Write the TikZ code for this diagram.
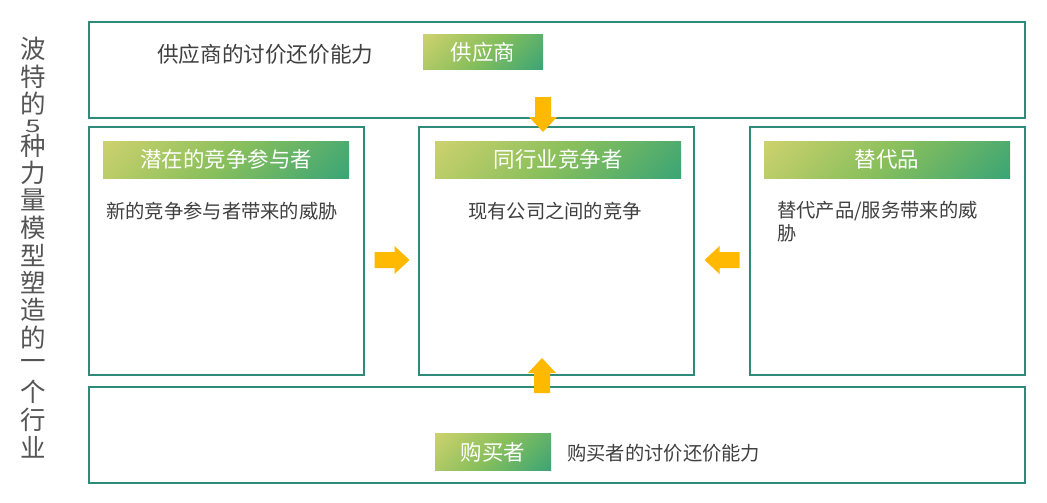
\documentclass[tikz,border=0pt]{standalone}
\usepackage{fontspec}
\usepackage{graphicx}
\setmainfont{Noto Sans CJK SC}
\definecolor{boxline}{HTML}{2E8B7A}
\definecolor{arrowfill}{HTML}{FFB900}
\definecolor{banyellow}{HTML}{EAD974}
\definecolor{bangreen}{HTML}{88BF5C}
\definecolor{banteal}{HTML}{1A9A80}
\definecolor{bodytext}{HTML}{404040}
\definecolor{titletext}{HTML}{555555}
\pgfdeclareverticalshading{bannershade}{100bp}{color(0bp)=(banteal); color(50bp)=(bangreen); color(100bp)=(banyellow)}
\tikzset{
  frame/.style={draw=boxline, line width=2.4pt, inner sep=0pt, outer sep=0pt},
  banner/.style={inner sep=0pt, outer sep=0pt, shading=bannershade, shading angle=45,
    text=white, font=\fontsize{21.5}{24}\selectfont},
  bodytxt/.style={text=bodytext, inner sep=0pt, font=\fontsize{19.3}{23}\selectfont},
  titlechar/.style={text=titletext, inner sep=0pt, font=\fontsize{25.5}{27}\selectfont},
  blockarrow/.pic={\fill[arrowfill] (-17.5,-8) -- (2.5,-8) -- (2.5,-14) -- (17.5,0) -- (2.5,14) -- (2.5,8) -- (-17.5,8) -- cycle;}
}
\begin{document}
\begin{tikzpicture}[x=1pt,y=-1pt]
\useasboundingbox (0,0) rectangle (1047,503);
\fill[white] (0,0) rectangle (1047,503);

% frames
\node[frame, minimum width=936pt, minimum height=96pt] (top) at (557,70) {};
\node[frame, minimum width=275pt, minimum height=248pt] (left) at (226.5,251) {};
\node[frame, minimum width=275pt, minimum height=248pt] (mid) at (556.5,251) {};
\node[frame, minimum width=275pt, minimum height=248pt] (right) at (887.5,251) {};
\node[frame, minimum width=936pt, minimum height=96pt] (bottom) at (557,435) {};

% banners
\node[banner, minimum width=120pt, minimum height=35pt] (bsup) at (483,52.5) {供应商};
\node[banner, minimum width=246pt, minimum height=37pt] (bpot) at (226,159.5) {潜在的竞争参与者};
\node[banner, minimum width=246pt, minimum height=37pt] (bind) at (558,159.5) {同行业竞争者};
\node[banner, minimum width=246pt, minimum height=37pt] (bsub) at (887,159.5) {替代品};
\node[banner, minimum width=116pt, minimum height=37pt] (bbuy) at (493,452) {购买者};

% body texts
\node[bodytxt, anchor=west, font=\fontsize{21.6}{24}\selectfont] (tsup) at (157,54) {供应商的讨价还价能力};
\node[bodytxt, anchor=west] (tpot) at (106,211) {新的竞争参与者带来的威胁};
\node[bodytxt] (tind) at (555,211) {现有公司之间的竞争};
\node[bodytxt, anchor=north west, align=left] (tsub) at (777,201) {替代产品/服务带来的威\\胁};
\node[bodytxt, anchor=west] (tbuy) at (567,453) {购买者的讨价还价能力};

% arrows
\pic at (392,260) {blockarrow};
\pic[rotate=180] at (722,260) {blockarrow};
\pic[rotate=-90] at (543,114.5) {blockarrow};
\pic[rotate=90] at (542,375.5) {blockarrow};

% vertical title
\foreach \c/\yy [count=\i] in {波/49.2,特/76.6,的/104,种/145.5,力/172.9,量/200.3,模/227.7,型/255.1,塑/282.5,造/309.9,的/337.3,一/364.7,个/392.1,行/419.5,业/446.9}
  \node[titlechar] (title\i) at (33,\yy) {\c};
\node[titlechar] (title5) at (33,126.5) {\scalebox{1.1}[0.68]{5}};
\end{tikzpicture}
\end{document}
